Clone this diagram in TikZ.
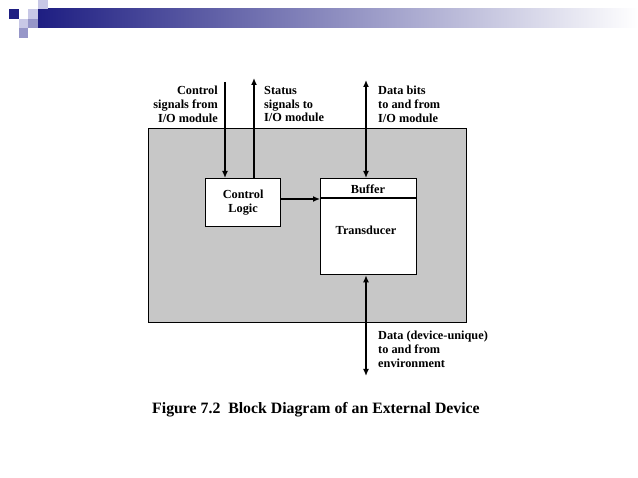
\documentclass[tikz,border=0pt]{standalone}
\usepackage{fontspec}
\setmainfont{Liberation Serif}
\usetikzlibrary{arrows.meta}
\begin{document}
\begin{tikzpicture}[x=1pt,y=-1pt,
  lbl/.style={font=\bfseries\fontsize{12.3}{13.8}\selectfont,align=left,inner sep=0pt},
  box/.style={draw,line width=1.3pt,fill=white},
  arr/.style={line width=1.3pt,-{Latex[length=7pt,width=6pt]}}, darr/.style={line width=1.3pt,{Latex[length=7pt,width=6pt]}-{Latex[length=7pt,width=6pt]}}]
\useasboundingbox (0,0) rectangle (638,478);
\fill[white] (0,0) rectangle (638,478);
\definecolor{navy}{RGB}{30,30,130}
\definecolor{lav}{RGB}{200,200,230}
\definecolor{lavm}{RGB}{150,150,200}
\shade[left color=navy,right color=white] (38,9) rectangle (638,28);
\fill[navy] (9,9) rectangle (19,19);
\fill[lav] (28,9) rectangle (38,19);
\fill[lav] (38,0) rectangle (48,9);
\fill[lav] (19,19) rectangle (28,28);
\fill[lavm] (28,19) rectangle (38,28);
\fill[lavm] (19,28) rectangle (28,38);
\node[draw,line width=1.3pt,fill=black!22,minimum width=318,minimum height=194,anchor=north west] (dev) at (148,128) {};
\node[box,minimum width=75,minimum height=48,anchor=north west] (cl) at (205,178) {};
\node[lbl,align=center] at (cl.center) {Control\\Logic};
\node[box,minimum width=96,minimum height=96,anchor=north west] (tr) at (320,178) {};
\draw[line width=1.3pt] (320,198) -- (416,198);
\node[lbl] (buf) at (368,189) {Buffer};
\node[lbl] (tx) at (366,230) {Transducer};
\coordinate (c1) at (225,82); \coordinate (s1) at (254,78);
\coordinate (d1) at (366,80); \coordinate (e1) at (366,376);
\draw[arr] (c1) -- (c1 |- cl.north);
\draw[arr] (s1 |- cl.north) -- (s1);
\draw[darr] (d1) -- (d1 |- tr.north);
\draw[arr] (cl.east |- 0,199) -- (tr.west |- 0,199);
\draw[darr] (e1 |- tr.south) -- (e1);
\node[lbl,align=right,anchor=north east] at (218,86) {Control\\signals from\\I/O module};
\node[lbl,anchor=north west] at (264,86) {Status\\signals to\\I/O module};
\node[lbl,anchor=north west] at (378,86) {Data bits\\to and from\\I/O module};
\node[lbl,anchor=north west] at (378,331) {Data (device-unique)\\to and from\\environment};
\node[font=\bfseries\fontsize{15.8}{18}\selectfont] at (316,410) {Figure 7.2\ \ Block Diagram of an External Device};
\end{tikzpicture}
\end{document}
